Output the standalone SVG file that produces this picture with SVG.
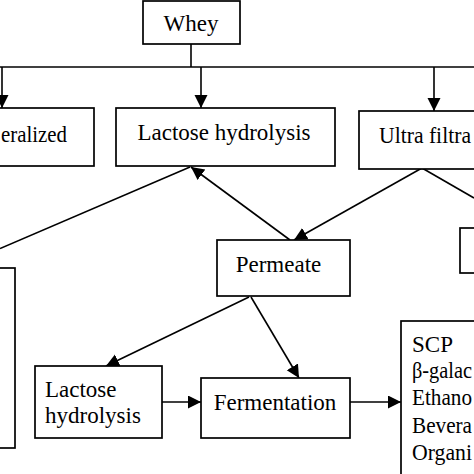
<svg xmlns="http://www.w3.org/2000/svg" width="474" height="474" viewBox="0 0 474 474">
<defs>
<marker id="ah" markerUnits="userSpaceOnUse" markerWidth="14" markerHeight="14" refX="13" refY="6.5" orient="auto">
<path d="M0,0 L13,6.5 L0,13 z" fill="#000"/>
</marker>
<style>
rect{fill:#fff;stroke:#000;stroke-width:1.7}
.c line{stroke:#000;stroke-width:1.6;fill:none}
.a{marker-end:url(#ah)}
text{font-family:"Liberation Serif","Times New Roman",serif;font-size:23px;fill:#000}
.m{text-anchor:middle}
</style>
</defs>
<rect width="474" height="474" style="fill:#fff;stroke:none"/>
<g class="c" id="connectors">
<line x1="191" y1="44" x2="191" y2="67"/>
<line x1="0" y1="67" x2="474" y2="67"/>
<line class="a" x1="2" y1="67" x2="2" y2="108"/>
<line class="a" x1="201" y1="67" x2="201" y2="108"/>
<line class="a" x1="434" y1="67" x2="434" y2="111"/>
<line x1="190" y1="167" x2="0" y2="248.5"/>
<line class="a" x1="290" y1="240" x2="191" y2="167"/>
<line class="a" x1="422" y1="168" x2="294" y2="240"/>
<line x1="422" y1="168" x2="474" y2="198"/>
<line class="a" x1="249" y1="297" x2="106" y2="366"/>
<line class="a" x1="251" y1="297" x2="299" y2="378"/>
<line class="a" x1="162" y1="402" x2="201" y2="402"/>
<line class="a" x1="350" y1="402" x2="401" y2="402"/>
</g>
<g id="whey"><rect x="143" y="1" width="97" height="43"/><text class="m" x="191" y="31">Whey</text></g>
<g id="demineralized"><rect x="-60" y="108" width="154" height="58"/><text x="1" y="142" textLength="66" lengthAdjust="spacingAndGlyphs">eralized</text></g>
<g id="lactose1"><rect x="116" y="108" width="219" height="58"/><text class="m" x="224" y="140">Lactose hydrolysis</text></g>
<g id="ultra"><rect x="359" y="111" width="140" height="58"/><text x="379" y="143" textLength="92" lengthAdjust="spacingAndGlyphs">Ultra filtra</text></g>
<g id="leftbox"><rect x="-40" y="268" width="55" height="180"/></g>
<g id="rightbox"><rect x="460" y="228" width="40" height="45"/></g>
<g id="permeate"><rect x="217" y="240" width="133" height="56"/><text class="m" x="278.5" y="272">Permeate</text></g>
<g id="lactose2"><rect x="35" y="366" width="127" height="72"/><text x="45" y="397">Lactose</text><text x="45" y="423">hydrolysis</text></g>
<g id="fermentation"><rect x="201" y="378" width="149" height="60"/><text class="m" x="275" y="410">Fermentation</text></g>
<g id="products"><rect x="401" y="321" width="120" height="180"/>
<text x="412" y="352">SCP</text>
<text x="412" y="378" textLength="60" lengthAdjust="spacingAndGlyphs">β-galac</text>
<text x="412" y="405" textLength="60" lengthAdjust="spacingAndGlyphs">Ethano</text>
<text x="412" y="433" textLength="60" lengthAdjust="spacingAndGlyphs">Bevera</text>
<text x="412" y="460" textLength="60" lengthAdjust="spacingAndGlyphs">Organi</text>
</g>
</svg>
